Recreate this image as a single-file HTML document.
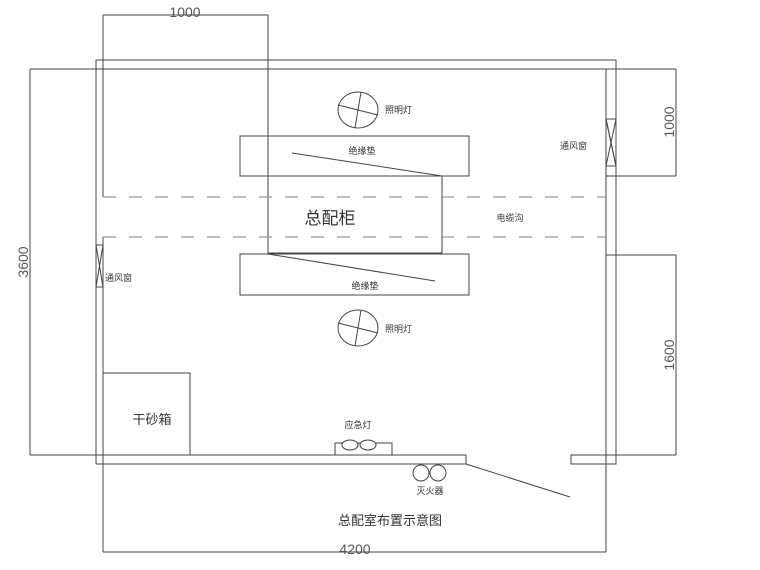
<!DOCTYPE html>
<html><head><meta charset="utf-8"><style>
html,body{margin:0;padding:0;background:#fff}
svg{display:block}
text{font-family:"Liberation Sans","Noto Sans CJK SC",sans-serif;fill:#333}
</style></head><body>
<svg width="760" height="570" viewBox="0 0 760 570" xmlns="http://www.w3.org/2000/svg">
<g stroke="#444" stroke-width="1" fill="none">
<!-- outer/inner walls -->
<polyline points="96,464 96,60 616,60 616,464"/>
<polyline points="103,197 103,69 606,69 606,552"/>
<line x1="103" y1="237" x2="103" y2="552"/>
<line x1="30" y1="455" x2="466" y2="455"/>
<line x1="96" y1="464" x2="466" y2="464"/>
<line x1="466" y1="455" x2="466" y2="464"/>
<rect x="571" y="455" width="45" height="9"/>
<line x1="466" y1="464" x2="570" y2="497"/>
<!-- top-left dim -->
<line x1="103" y1="15" x2="103" y2="69"/>
<line x1="268" y1="15" x2="268" y2="176"/>
<line x1="103" y1="15" x2="268" y2="15"/>
<!-- left dim -->
<line x1="30" y1="69" x2="103" y2="69"/>
<line x1="30" y1="69" x2="30" y2="455"/>
<!-- bottom dim -->
<line x1="103" y1="552" x2="606" y2="552"/>
<!-- right dims -->
<line x1="606" y1="69" x2="676" y2="69"/>
<line x1="676" y1="69" x2="676" y2="176"/>
<line x1="606" y1="176" x2="676" y2="176"/>
<line x1="606" y1="255" x2="676" y2="255"/>
<line x1="676" y1="255" x2="676" y2="455"/>
<line x1="606" y1="455" x2="676" y2="455"/>
<!-- windows -->
<rect x="606" y="119" width="10" height="47"/>
<polyline points="606,119 616,166 M0,0"/>
<line x1="606" y1="119" x2="616" y2="166"/><line x1="616" y1="119" x2="606" y2="166"/>
<rect x="96" y="245" width="7" height="42"/>
<line x1="96" y1="245" x2="103" y2="287"/><line x1="103" y1="245" x2="96" y2="287"/>
<!-- mats and cabinet -->
<rect x="240" y="136" width="229" height="40"/>
<line x1="292" y1="153" x2="442" y2="176"/>
<rect x="268" y="176" width="174" height="77"/>
<rect x="240" y="254" width="229" height="41"/>
<line x1="268" y1="254" x2="435" y2="281"/>
<!-- lights -->
<ellipse cx="358" cy="110" rx="20" ry="18"/>
<line x1="338" y1="105" x2="378" y2="115"/><line x1="361" y1="92" x2="355" y2="128"/>
<ellipse cx="358" cy="328" rx="20" ry="18"/>
<line x1="338" y1="323" x2="378" y2="333"/><line x1="361" y1="310" x2="355" y2="346"/>
<!-- sand box -->
<rect x="103" y="373" width="87" height="82"/>
<!-- emergency light -->
<rect x="335" y="443" width="57" height="12"/>
<ellipse cx="350" cy="445" rx="8" ry="5" fill="#fff"/>
<ellipse cx="368" cy="445" rx="8" ry="5" fill="#fff"/>
<!-- extinguishers -->
<circle cx="421" cy="473" r="8"/><circle cx="438" cy="473" r="8"/>
</g>
<g stroke="#999" stroke-width="1.3" stroke-dasharray="13,13">
<line x1="103" y1="197" x2="606" y2="197"/>
<line x1="103" y1="237" x2="606" y2="237"/>
</g>
<g fill="#666" font-size="14">
<text x="185" y="17" text-anchor="middle" style="fill:#555">1000</text>
<text x="355" y="554" text-anchor="middle" style="fill:#555">4200</text>
<text transform="translate(28,262) rotate(-90)" text-anchor="middle" style="fill:#555">3600</text>
<text transform="translate(674,122) rotate(-90)" text-anchor="middle" style="fill:#555">1000</text>
<text transform="translate(674,355) rotate(-90)" text-anchor="middle" style="fill:#555">1600</text>
</g>
<g font-size="9">
<text x="385" y="113">照明灯</text>
<text x="385" y="332">照明灯</text>
<text x="362" y="154" text-anchor="middle">绝缘垫</text>
<text x="365" y="289" text-anchor="middle">绝缘垫</text>
<text x="560" y="149">通风窗</text>
<text x="105" y="281">通风窗</text>
<text x="510" y="221" text-anchor="middle">电缆沟</text>
<text x="358" y="428" text-anchor="middle">应急灯</text>
<text x="430" y="494" text-anchor="middle">灭火器</text>
</g>
<text x="330" y="224" text-anchor="middle" font-size="17">总配柜</text>
<text x="152" y="424" text-anchor="middle" font-size="13">干砂箱</text>
<text x="390" y="525" text-anchor="middle" font-size="13">总配室布置示意图</text>
</svg>
</body></html>
